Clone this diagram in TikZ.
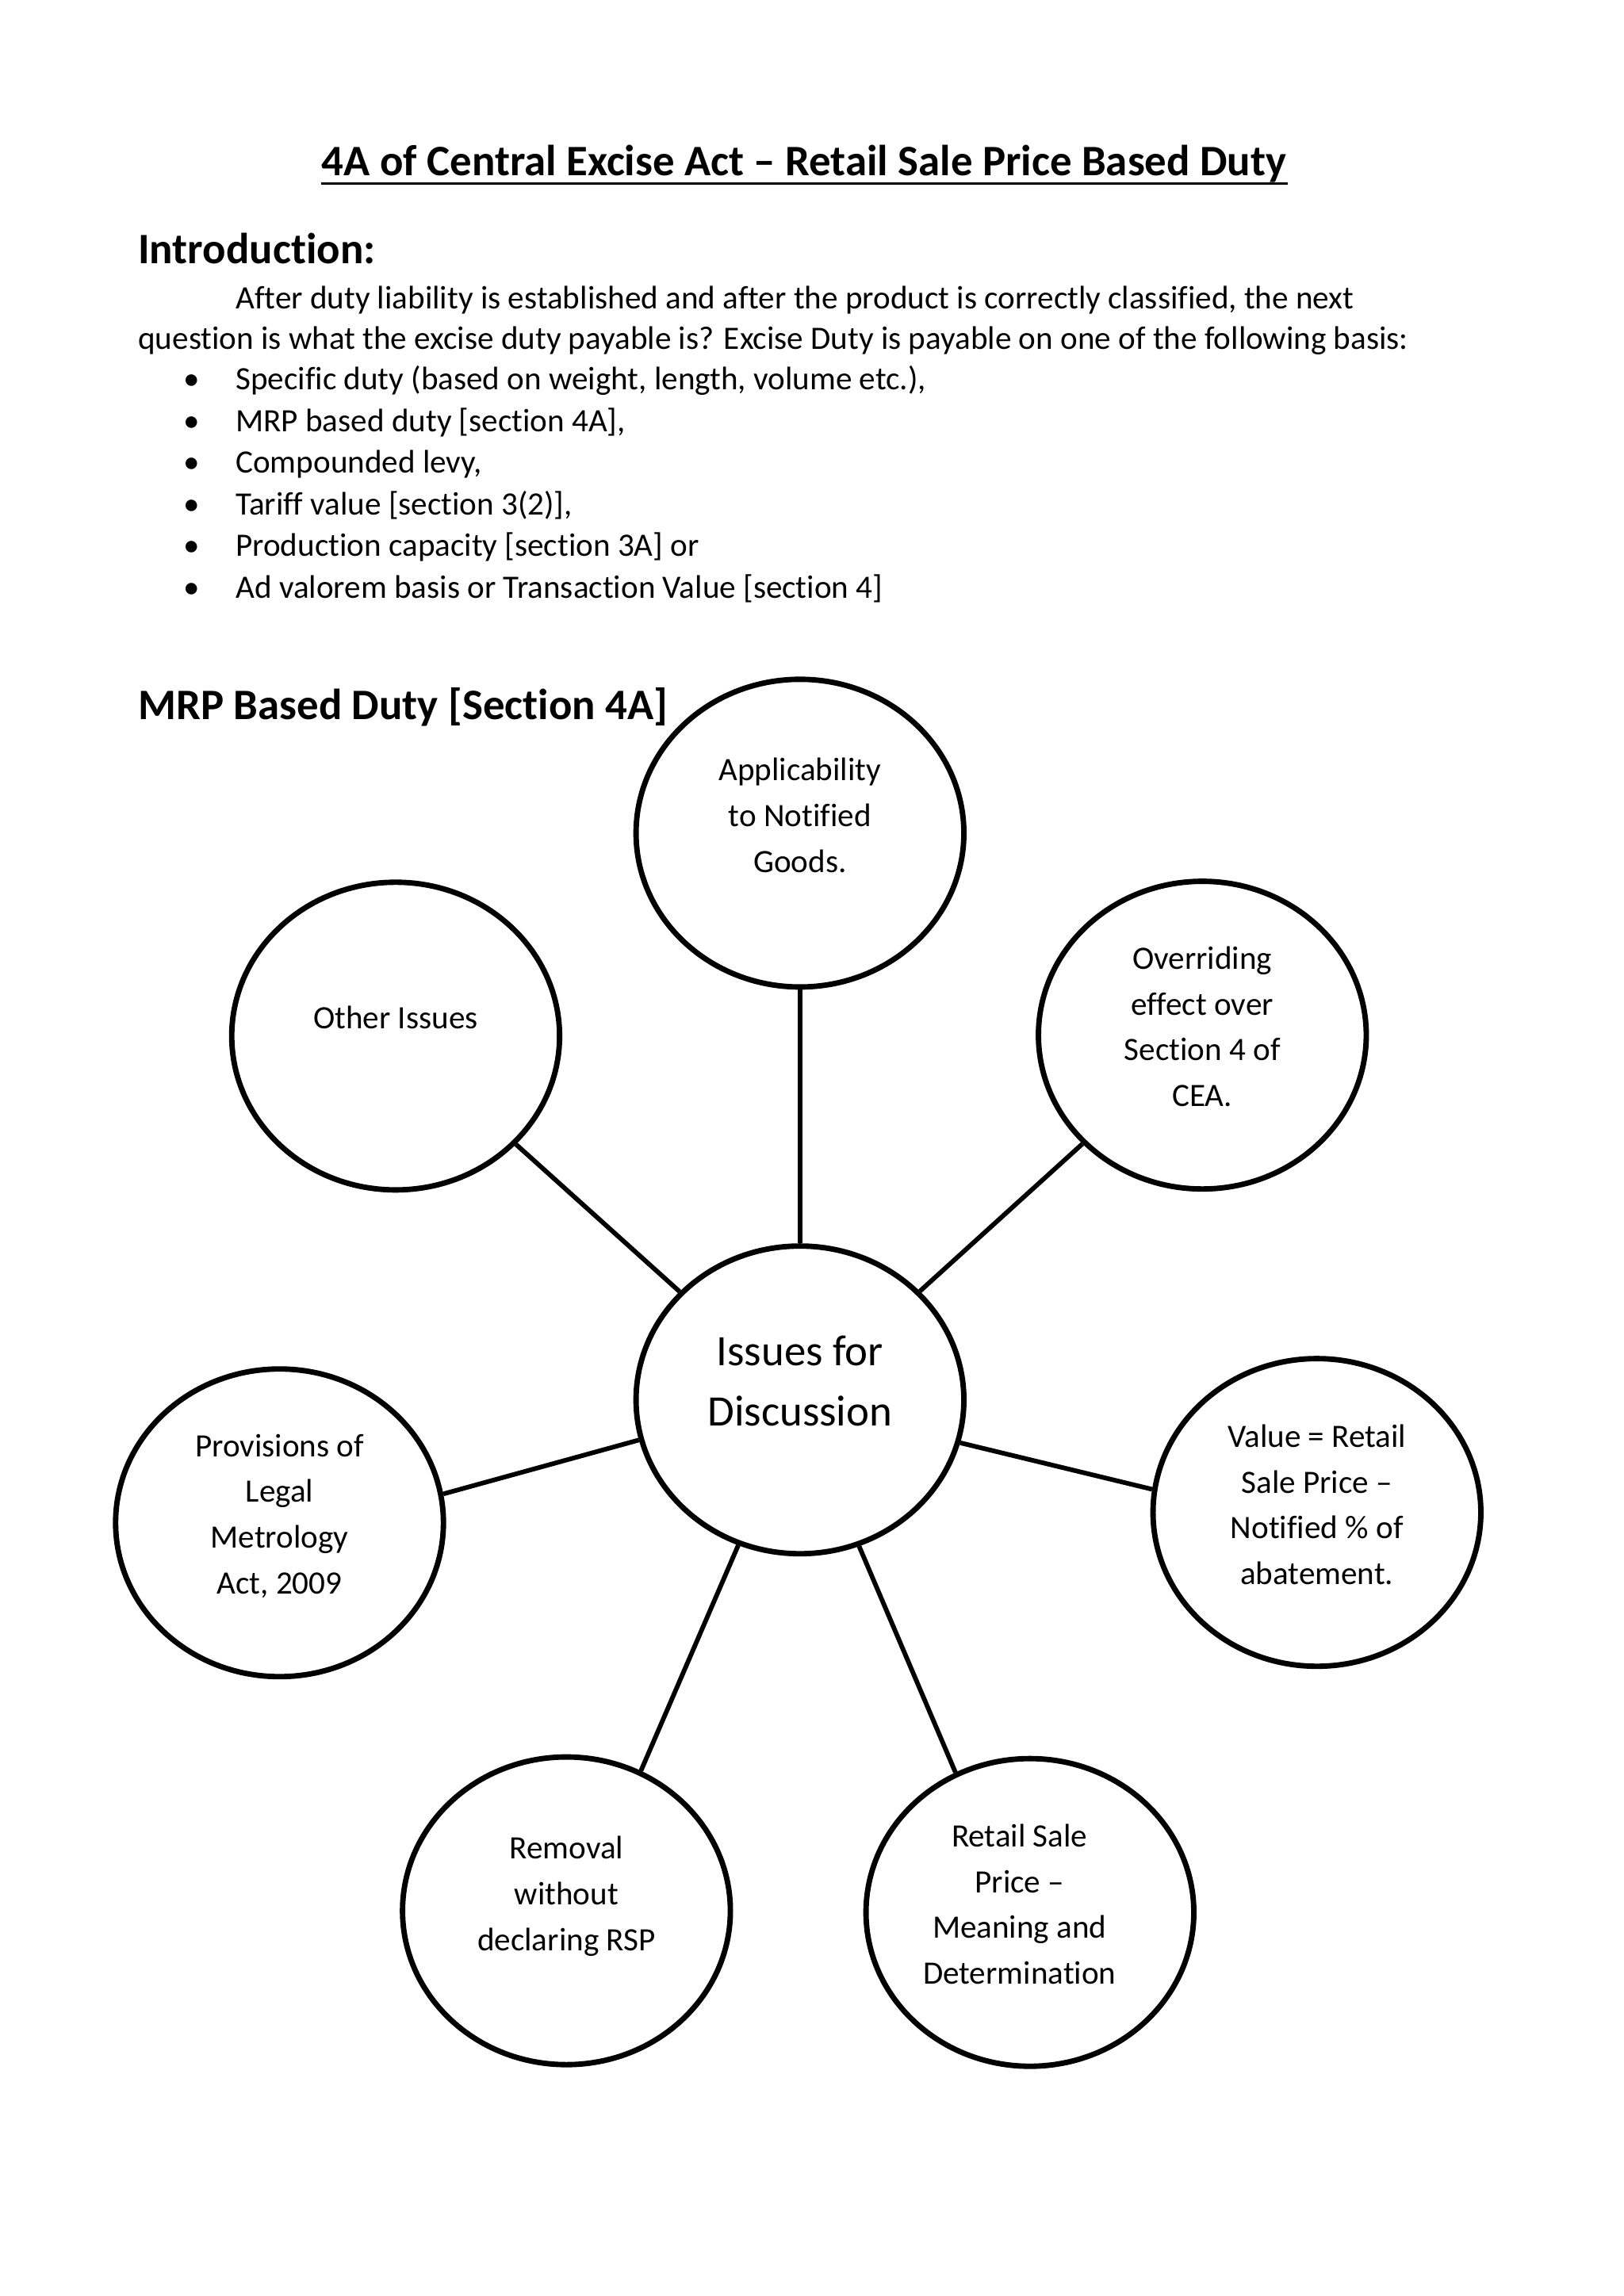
\documentclass[tikz,border=0pt]{standalone}
\usepackage{fontspec}
\setmainfont{Carlito}[Ligatures=NoCommon]
\usetikzlibrary{shapes.geometric}
% text of a bubble, moved a little inside its ellipse
\newcommand\bub[3][0pt]{\hspace*{#1}\raisebox{#2}[\height][\depth]{\begin{tabular}{@{}c@{}}#3\end{tabular}}}
\begin{document}
\begin{tikzpicture}[thick,
		every node/.style = {inner sep=0pt},
		body/.style = {anchor=base west, font=\fontsize{12}{15}\selectfont},
		head/.style = {anchor=base west, font=\fontsize{16}{19}\selectfont\bfseries},
		main/.style = {draw, ellipse, line width=2pt, minimum width=4.24cm, minimum height=3.98cm, font=\fontsize{12}{16.8}\selectfont},
		link/.style = {line width=1.7pt}]
	\useasboundingbox (0,0) rectangle (21,-29.7);

	% heading and introduction
	\node[anchor=base, font=\fontsize{16}{19}\selectfont\bfseries] (title) at (10.40,-2.276) {4A of Central Excise Act – Retail Sale Price Based Duty};
	\draw[line width=0.9pt] ([yshift=-2.9pt]title.base west) -- ([yshift=-2.9pt]title.base east);
	\node[head] (intro) at (1.774,-3.415) {Introduction:};
	\node[body] (introA) at (3.035,-3.99) {After duty liability is established and after the product is correctly classified, the next};
	\node[body] (introB) at (1.774,-4.515) {question is what the excise duty payable is? Excise Duty is payable on one of the following basis:};
	\foreach \txt [count=\i] in {{Specific duty (based on weight, length, volume etc.),},
			{MRP based duty [section 4A],}, {Compounded levy,}, {Tariff value [section 3(2)],},
			{Production capacity [section 3A] or}, {Ad valorem basis or Transaction Value [section 4]}} {
		\node[body, anchor=base] (dot\i) at (2.481,{-5.04-0.5394*(\i-1)}) {\textbullet};
		\node[body] (item\i) at (3.035,{-5.04-0.5394*(\i-1)}) {\txt};
	}
	\node[head] (mrp) at (1.774,-9.31) {MRP Based Duty [Section 4A]};

	% bubbles
	\node[main] (app) at (10.346,-10.777) {\bub{5.8pt}{Applicability\\to Notified\\Goods.}};
	\node[main] (other) at (5.117,-13.402) {\bub{6pt}{Other Issues}};
	\node[main] (over) at (15.55,-13.39) {\bub{2.4pt}{Overriding\\effect over\\Section 4 of\\CEA.}};
	\node[main, font=\fontsize{16}{22.1}\selectfont] (disc) at (10.346,-18.108) {\bub{5.9pt}{Issues for\\Discussion}};
	\node[main] (prov) at (3.615,-19.698) {\bub{2.5pt}{Provisions of\\Legal\\Metrology\\Act, 2009}};
	\node[main] (value) at (17.032,-19.564) {\bub{2.1pt}{Value = Retail\\Sale Price –\\Notified \% of\\abatement.}};
	\node[main] (removal) at (7.326,-24.717) {\bub{5.6pt}{Removal\\without\\declaring RSP}};
	\node[main] (retail) at (13.320,-24.738) {\bub[-7.6pt]{2.2pt}{Retail Sale\\Price –\\Meaning and\\Determination}};

	\draw[link] (app) to (disc);
	\draw[link] (other) to (disc);
	\draw[link] (over) to (disc);
	\draw[link] (prov.10) to (disc.194);
	\draw[link] (disc.-15) to (value.172);
	\draw[link] (disc.247) to (removal.62);
	\draw[link] (disc.292) to (retail.118);
\end{tikzpicture}
\end{document}
